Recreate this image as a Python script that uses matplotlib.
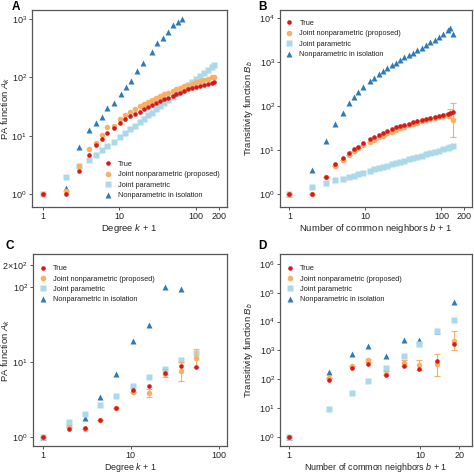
import matplotlib
matplotlib.use("Agg")
import matplotlib.pyplot as plt
from matplotlib.ticker import FixedLocator, FixedFormatter, NullLocator

plt.rcParams['font.family'] = ['Liberation Sans', 'DejaVu Sans']
plt.rcParams['mathtext.fontset'] = 'custom'
plt.rcParams['mathtext.rm'] = 'Liberation Sans'
plt.rcParams['mathtext.it'] = 'Liberation Sans:italic'
plt.rcParams['mathtext.bf'] = 'Liberation Sans:bold'

labels = ["True", "Joint nonparametric (proposed)", "Joint parametric", "Nonparametric in isolation"]
c_true = "#d7191c"
c_jnp = "#fdae61"
c_jp = "#abd9e9"
c_iso = "#2c7bb6"

# ---------- Panel A ----------
xA = [1, 2, 3, 4, 5, 6, 7, 8.5, 10.3, 12, 14, 16, 18.5, 21, 24, 27, 30.5, 34.5, 39, 44, 50, 56, 63, 71, 80, 90, 101, 114, 128, 144, 162, 175]
trueA = [1.0, 1.0, 2.5, 4.7, 7.0, 9.0, 11, 13.4, 16.5, 19.5, 21.5, 23.5, 26, 28.5, 31, 33.5, 36, 39, 42, 45, 48.5, 52, 55, 58.5, 62, 65, 68, 71, 74, 77, 80, 82]
jnpA = [1.0, 1.15, 3.1, 6.0, 7.6, 10.5, 14, 15, 19.5, 23, 26, 29, 32, 35, 38, 41, 44, 47.5, 51, 54.5, 58, 62, 66, 70, 74, 78, 82, 86, 90, 95, 100, 103]
jpA = [1.0, 2.0, 3.0, 3.9, 4.8, 5.7, 6.6, 8.0, 9.7, 11.3, 13.1, 15, 17.2, 19.5, 22.3, 25, 28.4, 32, 36, 40.5, 46, 51.5, 58, 65, 73, 82, 92, 104, 117, 131, 148, 160]
xA_iso = [2, 3, 4, 5, 6, 7, 8.5, 10.5, 12.3, 14.3, 17, 20.3, 26.6, 31, 37.8, 44, 51, 59, 67]
isoA = [1.27, 6.5, 12.6, 16.3, 21, 30, 36, 51, 69, 88, 130, 174, 275, 380, 470, 600, 780, 870, 1000]

# ---------- Panel B ----------
xB = [1, 2, 3, 4, 5, 6, 7, 8, 9.4, 11.5, 13.1, 15, 17, 19.4, 22, 25, 28.5, 32.5, 37, 42, 48, 55, 62, 71, 81, 92, 105, 120, 130, 141]
trueB = [1.0, 1.0, 2.5, 4.9, 6.6, 8.6, 10.6, 12.1, 14.4, 17.8, 20, 22.5, 25, 27.5, 30, 33, 35, 37, 40, 43, 46, 49, 52, 55, 58, 61, 64.5, 68, 70.5, 73]
jnpB = [1.0, 1.0, 2.4, 4.4, 6.0, 7.8, 9.5, 11, 13, 15.5, 17.5, 19.5, 21.5, 24, 26.5, 29, 31.5, 34, 36.5, 39.5, 42.5, 45.5, 48.5, 51.5, 54.5, 57.5, 60.5, 63.5, 66, 48]
jnpB_lo = [1.0, 1.0, 2.4, 4.4, 6.0, 7.8, 9.5, 11, 13, 15.5, 17.5, 19.5, 21.5, 24, 26.5, 29, 31.5, 34, 36.5, 39.5, 42.5, 45.5, 48.5, 51.5, 54.5, 57.5, 58, 56, 55, 20]
jnpB_hi = [1.0, 1.0, 2.4, 4.4, 6.0, 7.8, 9.5, 11, 13, 15.5, 17.5, 19.5, 21.5, 24, 26.5, 29, 31.5, 34, 36.5, 39.5, 42.5, 45.5, 48.5, 51.5, 54.5, 57.5, 63, 72, 85, 118]
jpB = [1.0, 1.45, 1.78, 2.05, 2.25, 2.45, 2.65, 2.85, 3.1, 3.4, 3.65, 3.9, 4.15, 4.45, 4.75, 5.05, 5.4, 5.75, 6.15, 6.55, 7.0, 7.5, 8.0, 8.55, 9.15, 9.75, 10.4, 11.1, 11.6, 12.3]
isoB = [1.0, 3.6, 16.5, 40, 72, 118, 160, 210, 280, 380, 450, 540, 630, 740, 860, 990, 1130, 1290, 1460, 1650, 1880, 2150, 2450, 2850, 3250, 3750, 4400, 5300, 6100, 4300]

# ---------- Panel C ----------
xC = [1, 2, 3, 4.5, 6.8, 10.7, 16.3, 24.7, 37, 55]
trueC = [1.0, 1.28, 1.29, 1.68, 2.42, 4.2, 4.8, 7.2, 8.7, 8.5]
jnpC = [1.0, 1.33, 1.25, 1.68, 2.42, 4.0, 3.8, 7.0, 7.6, 11.4]
jnpC_lo = [1.0, 1.33, 1.25, 1.68, 2.42, 4.0, 3.4, 6.2, 5.6, 8.6]
jnpC_hi = [1.0, 1.33, 1.25, 1.68, 2.42, 4.0, 4.3, 8.0, 10.0, 15.0]
jpC = [1.0, 1.57, 2.02, 2.62, 3.49, 4.75, 6.2, 8.1, 10.5, 13.2]
xC_iso = [1, 2, 3, 4.5, 6.8, 10.7, 16.3, 24.7, 37]
isoC = [1.0, 1.57, 1.79, 3.43, 7.0, 19.3, 30.8, 101, 95]

# ---------- Panel D ----------
xD = [1, 2, 3, 4, 5.5, 7.5, 9.9, 13.5, 18.1]
trueD = [1.0, 91, 250, 343, 140, 286, 218, 425, 1670]
jnpD = [1.0, 107, 286, 445, 155, 371, 310, 325, 2170]
jnpD_lo = [1.0, 107, 286, 390, 135, 290, 200, 130, 1040]
jnpD_hi = [1.0, 107, 286, 520, 190, 480, 480, 775, 4570]
jpD = [1.0, 9.2, 33.7, 87, 236, 662, 1670, 4570, 10900]
isoD = [1.0, 178, 755, 1460, 662, 2240, 2350, 4570, 49000]

fig = plt.figure(figsize=(4.74, 4.74), dpi=100)
W = H = 474.0

def make_ax(l, r, t, b):
    return fig.add_axes([l / W, 1 - b / H, (r - l) / W, (b - t) / H])

axA = make_ax(32, 227, 10, 207)
axB = make_ax(280, 472, 10, 207)
axC = make_ax(33, 227, 254, 446)
axD = make_ax(280, 472, 254, 446)

ms_true, ms_jnp, ms_jp, ms_iso = 3.3, 4.0, 3.7, 4.6

def draw(ax, x, tr, jn, jn_lo, jn_hi, jp, xiso, iso):
    ax.plot(xiso, iso, ls='none', marker='^', ms=ms_iso, color=c_iso, mec='none', zorder=2, label=labels[3])
    ax.plot(x, jp, ls='none', marker='s', ms=ms_jp, color=c_jp, mec='none', zorder=3, label=labels[2])
    if jn_lo is not None:
        lo = [v - l for v, l in zip(jn, jn_lo)]
        hi = [h - v for v, h in zip(jn, jn_hi)]
        ax.errorbar(x, jn, yerr=[lo, hi], fmt='none', ecolor=c_jnp, elinewidth=0.8, capsize=2.0, capthick=0.8, zorder=3.5)
    ax.plot(x, jn, ls='none', marker='o', ms=ms_jnp, color=c_jnp, mec='none', zorder=4, label=labels[1])
    ax.plot(x, tr, ls='none', marker='o', ms=ms_true, color=c_true, mec='none', zorder=5, label=labels[0])

draw(axA, xA, trueA, jnpA, None, None, jpA, xA_iso, isoA)
draw(axB, xB, trueB, jnpB, jnpB_lo, jnpB_hi, jpB, xB, isoB)
draw(axC, xC, trueC, jnpC, jnpC_lo, jnpC_hi, jpC, xC_iso, isoC)
draw(axD, xD, trueD, jnpD, jnpD_lo, jnpD_hi, jpD, xD, isoD)

def sup(e):
    return r"$10^{%d}$" % e

def style(ax, xlim, ylim, xt, xtl, yt, ytl, xlabel, ylabel, letter, lx, ly, ylab_px, xlab_y, xlab_fs):
    ax.set_xscale('log')
    ax.set_yscale('log')
    ax.set_xlim(*xlim)
    ax.set_ylim(*ylim)
    ax.xaxis.set_major_locator(FixedLocator(xt))
    ax.xaxis.set_major_formatter(FixedFormatter(xtl))
    ax.yaxis.set_major_locator(FixedLocator(yt))
    ax.yaxis.set_major_formatter(FixedFormatter(ytl))
    ax.xaxis.set_minor_locator(NullLocator())
    ax.yaxis.set_minor_locator(NullLocator())
    for s in ax.spines.values():
        s.set_color('#555555')
        s.set_linewidth(0.9)
    ax.tick_params(axis='both', which='major', length=2.5, width=0.7, color='#555555',
                   labelsize=6.5, labelcolor='#222222', pad=1.2)
    ax.tick_params(axis='x', pad=1.0)
    ax.set_xlabel(xlabel, fontsize=xlab_fs, color='#222222')
    ax.set_ylabel(ylabel, fontsize=6.8, color='#222222')
    pos = ax.get_position()
    ax.yaxis.set_label_coords((ylab_px / W - pos.x0) / pos.width, 0.5)
    # x label top edge at pixel row xlab_y
    ax.xaxis.set_label_coords(0.5, ((1 - xlab_y / H) - pos.y0) / pos.height)
    fig.text(lx / W, 1 - ly / H, letter, fontsize=8.5, fontweight='bold', ha='left', va='center')

style(axA, (0.72, 257), (0.61, 1412), [1, 10, 100, 200], ["1", "10", "100", "200"],
      [1, 10, 100, 1000], [sup(0), sup(1), sup(2), sup(3)],
      r"Degree $k$ + 1", r"PA function $A_k$", "A", 12, 6.5, 12, 222, 6.8)
style(axB, (0.75, 252), (0.51, 15500), [1, 10, 100, 200], ["1", "10", "100", "200"],
      [1, 10, 100, 1000, 10000], [sup(0), sup(1), sup(2), sup(3), sup(4)],
      r"Number of common neighbors $b$ + 1", r"Transitivity function $B_b$", "B", 258, 6.5, 255, 222, 6.8)
style(axC, (0.78, 124), (0.75, 279), [1, 10, 100], ["1", "10", "100"],
      [1, 10, 100, 200], [sup(0), sup(1), sup(2), r"$2\!\times\!10^{2}$"],
      r"Degree $k$ + 1", r"PA function $A_k$", "C", 6, 246, 12, 461.5, 6.4)
style(axD, (0.85, 25), (0.48, 2.2e6), [1, 10, 20], ["1", "10", "20"],
      [1, 10, 100, 1e3, 1e4, 1e5, 1e6], [sup(i) for i in range(7)],
      r"Number of common neighbors $b$ + 1", r"Transitivity function $B_b$", "D", 258, 246, 255, 461.5, 6.4)

def leg(ax, loc, anchor):
    h, l = ax.get_legend_handles_labels()
    order = [3, 2, 1, 0]
    lg = ax.legend([h[i] for i in order], [l[i] for i in order], loc=loc, bbox_to_anchor=anchor,
                   frameon=False, fontsize=5.3, borderpad=0, borderaxespad=0, handlelength=1.0,
                   handletextpad=0.85, labelspacing=0.45, numpoints=1)
    for t in lg.get_texts():
        t.set_color('#222222')

leg(axA, 'lower left', (0.37, 0.04))
leg(axB, 'upper left', (0.03, 0.95))
leg(axC, 'upper left', (0.034, 0.943))
leg(axD, 'upper left', (0.031, 0.943))

fig.savefig("out.png", dpi=100)
